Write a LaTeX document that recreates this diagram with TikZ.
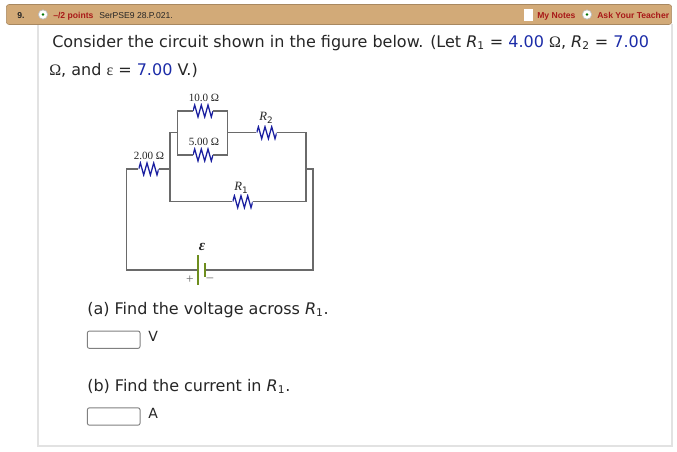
\documentclass[tikz,border=0pt]{standalone}
\usepackage{fontspec}
\setmainfont{DejaVu Sans}
\newfontfamily\headfont{Liberation Sans}
\newfontfamily\serifont{Liberation Serif}
\definecolor{headtan}{HTML}{D2AA78}
\definecolor{headred}{HTML}{A81818}
\definecolor{numblue}{HTML}{1C2CA8}
\definecolor{wiregray}{HTML}{6A6A6A}
\definecolor{resblue}{HTML}{1A1FA0}
\definecolor{batgreen}{HTML}{6E8E1E}
\definecolor{cardgray}{HTML}{E2E2E2}
\newcommand{\blue}[1]{\textcolor{numblue}{#1}}
\begin{document}
\begin{tikzpicture}[x=0.75pt,y=-0.75pt]
\tikzstyle{every node}+=[inner sep=0pt]
\tikzstyle{wire}=[draw=wiregray,line width=0.95pt]
\tikzstyle{res}=[minimum width=15pt,minimum height=11pt,path picture={\draw [resblue,line width=0.95pt,shift={(path picture bounding box.center)}] (-10,0) -- (-8.3,-6) -- (-5,6) -- (-1.7,-6) -- (1.7,6) -- (5,-6) -- (8.3,6) -- (10,0);}]
\tikzstyle{plate}=[fill=batgreen,minimum width=1.2pt]
\tikzstyle{lbl}=[font=\serifont\fontsize{8.3}{9}\selectfont,text=black!85]
\tikzstyle{prob}=[anchor=base west,font=\fontsize{12}{14}\selectfont,text=black!85]
\tikzstyle{unit}=[anchor=base west,font=\fontsize{10.5}{12}\selectfont,text=black!85]
\tikzstyle{head}=[anchor=base west,font=\headfont\bfseries\fontsize{6.45}{8}\selectfont]
\tikzstyle{icon}=[circle,draw=black!25,fill=white,minimum size=7pt,line width=0.5pt]
\tikzstyle{dot}=[circle,fill=green!45!black,minimum size=2.2pt]
\tikzstyle{ansbox}=[draw=black!50,fill=white,rounded corners=1.5pt,line width=0.7pt,minimum width=39.5pt,minimum height=13pt]
\useasboundingbox [fill=white] (0,0) rectangle (677,451);
\draw [cardgray,line width=1pt] (38,24) -- (38,446) -- (672,446) -- (672,24);
\node (bar) [fill=headtan,draw=headtan!80!black,rounded corners=2pt,minimum width=499pt,minimum height=15pt,line width=0.4pt] at (339,14.5) {};
\node (num) [head,text=black!85] at (17,18) {9.};
\node (plusa) [icon] at (43,14.5) {};
\node [dot] at (plusa) {};
\node (pts) [head,text=headred] at (53,18) {–/2 points};
\node (src) [head,font=\headfont\fontsize{6.45}{8}\selectfont,text=black!85] at (99,18) {SerPSE9 28.P.021.};
\node (note) [fill=white,minimum width=6.5pt,minimum height=9pt] at (528.5,14.5) {};
\node (notes) [head,text=headred] at (537,18) {My Notes};
\node (plusb) [icon] at (587,14.5) {};
\node [dot] at (plusb) {};
\node (ask) [head,text=headred] at (597,18) {Ask Your Teacher};
\node (lineone) [prob] at (52,47) {Consider the circuit shown in the figure below. (Let \textit{R}$_{\mathrm{1}}$ = \blue{4.00} {\serifont Ω}, \textit{R}$_{\mathrm{2}}$ = \blue{7.00}};
\node (linetwo) [prob] at (49,75) {{\serifont Ω}, and {\serifont ε} = \blue{7.00} V.)};
\node (rten) [res] at (203,111) {};
\node (rfive) [res] at (203,155) {};
\node (rtwo) [res] at (266.7,132.7) {};
\node (rone) [res] at (242.7,201.7) {};
\node (rser) [res] at (148.7,169) {};
\node (bplus) [plate,minimum height=22.5pt] at (197.7,270) {};
\node (bminus) [plate,minimum height=10.5pt] at (205,270) {};
\coordinate (boxtl) at (177.3,111);
\coordinate (boxtr) at (227.7,111);
\coordinate (boxbl) at (177.3,155);
\coordinate (boxbr) at (227.7,155);
\coordinate (boxl) at (177.3,132.7);
\coordinate (boxr) at (227.7,132.7);
\coordinate (jtop) at (170,132.7);
\coordinate (jmid) at (170,169);
\coordinate (jbot) at (170,201.7);
\coordinate (rtop) at (306,132.7);
\coordinate (rmid) at (306,169);
\coordinate (rbot) at (306,201.7);
\coordinate (otr) at (313,169);
\coordinate (obr) at (313,270);
\coordinate (obl) at (126.7,270);
\coordinate (otl) at (126.7,169);
\draw [wire] (rten.west) -- (boxtl) -- (boxbl) -- (rfive.west);
\draw [wire] (rten.east) -- (boxtr) -- (boxbr) -- (rfive.east);
\draw [wire] (boxl) -- (jtop) -- (jbot) -- (rone.west);
\draw [wire] (boxr) -- (rtwo.west);
\draw [wire] (rtwo.east) -- (rtop) -- (rbot) -- (rone.east);
\draw [wire] (rser.east) -- (jmid);
\draw [wire] (rser.west) -- (otl) -- (obl) -- (bplus.west);
\draw [wire] (bminus.east) -- (obr) -- (otr) -- (rmid);
\node (lten) [lbl] at (204,98) {10.0 Ω};
\node (lfive) [lbl] at (204,141.5) {5.00 Ω};
\node (ltwo) [lbl] at (149,155.5) {2.00 Ω};
\node (ltwor) [lbl,font=\serifont\itshape\fontsize{9.5}{10}\selectfont] at (266.5,118) {R$_{\mathrm{2}}$};
\node (loner) [lbl,font=\serifont\itshape\fontsize{9.5}{10}\selectfont] at (241.5,188) {R$_{\mathrm{1}}$};
\node (lemf) [lbl,font=\serifont\bfseries\itshape\fontsize{11.5}{12}\selectfont] at (202,247) {ε};
\node (lplus) [lbl,text=black!60,font=\serifont\fontsize{10}{11}\selectfont] at (190,279.5) {+};
\node (lminus) [lbl,text=black!60,font=\serifont\fontsize{10}{11}\selectfont] at (210,279.5) {–};
\node (parta) [prob] at (87,314) {(a) Find the voltage across \textit{R}$_{\mathrm{1}}$.};
\node (boxa) [ansbox] at (113.7,339.7) {};
\node (unita) [unit] at (148,341) {V};
\node (partb) [prob] at (87,391) {(b) Find the current in \textit{R}$_{\mathrm{1}}$.};
\node (boxb) [ansbox] at (113.7,416.5) {};
\node (unitb) [unit] at (148,418) {A};
\end{tikzpicture}
\end{document}
